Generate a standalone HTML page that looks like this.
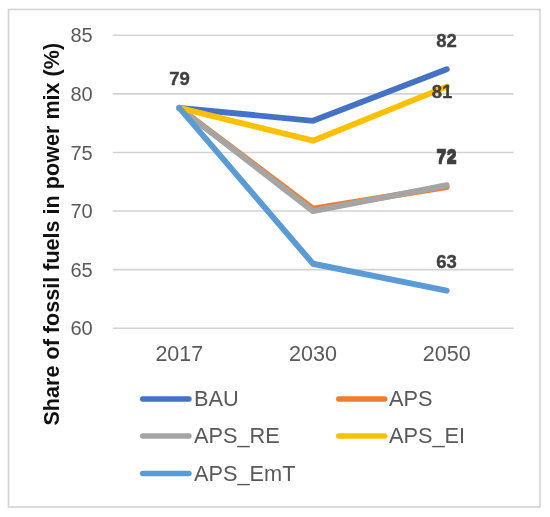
<!DOCTYPE html>
<html><head><meta charset="utf-8"><style>
html,body{margin:0;padding:0;background:#fff;}
body{width:550px;height:517px;overflow:hidden;}
svg{display:block;will-change:transform;font-family:"Liberation Sans",sans-serif;}
.ax{font-size:20px;fill:#595959;}
.xl{font-size:21.5px;fill:#595959;}
.dl{font-size:18.5px;font-weight:bold;fill:#404040;stroke:#404040;stroke-width:0.35px;}
.tt{font-size:21.6px;font-weight:bold;fill:#111;}
.lg{font-size:21.75px;fill:#595959;}
</style></head><body>
<svg width="550" height="517" viewBox="0 0 550 517">
<rect x="8.5" y="9.5" width="531.5" height="497.5" fill="#fff" stroke="#d3d3d3" stroke-width="1.6"/>
<line x1="112.8" y1="35.30" x2="513.5" y2="35.30" stroke="#d3d3d3" stroke-width="1.6"/>
<text x="92.7" y="42.40" text-anchor="end" class="ax">85</text>
<line x1="112.8" y1="93.88" x2="513.5" y2="93.88" stroke="#d3d3d3" stroke-width="1.6"/>
<text x="92.7" y="100.98" text-anchor="end" class="ax">80</text>
<line x1="112.8" y1="152.46" x2="513.5" y2="152.46" stroke="#d3d3d3" stroke-width="1.6"/>
<text x="92.7" y="159.56" text-anchor="end" class="ax">75</text>
<line x1="112.8" y1="211.04" x2="513.5" y2="211.04" stroke="#d3d3d3" stroke-width="1.6"/>
<text x="92.7" y="218.14" text-anchor="end" class="ax">70</text>
<line x1="112.8" y1="269.62" x2="513.5" y2="269.62" stroke="#d3d3d3" stroke-width="1.6"/>
<text x="92.7" y="276.72" text-anchor="end" class="ax">65</text>
<line x1="112.8" y1="328.20" x2="513.5" y2="328.20" stroke="#d3d3d3" stroke-width="1.6"/>
<text x="92.7" y="335.30" text-anchor="end" class="ax">60</text>
<text x="179.30" y="361" text-anchor="middle" class="xl">2017</text>
<text x="313.00" y="361" text-anchor="middle" class="xl">2030</text>
<text x="446.70" y="361" text-anchor="middle" class="xl">2050</text>
<polyline points="179.30,107.94 313.00,120.83 446.70,69.28" fill="none" stroke="#4472C4" stroke-width="5.9" stroke-linecap="round" stroke-linejoin="round"/>
<polyline points="179.30,107.94 313.00,208.70 446.70,187.02" fill="none" stroke="#ED7D31" stroke-width="5.9" stroke-linecap="round" stroke-linejoin="round"/>
<polyline points="179.30,107.94 313.00,211.04 446.70,185.26" fill="none" stroke="#A5A5A5" stroke-width="5.9" stroke-linecap="round" stroke-linejoin="round"/>
<polyline points="179.30,107.94 313.00,140.74 446.70,86.62" fill="none" stroke="#FFC000" stroke-width="5.9" stroke-linecap="round" stroke-linejoin="round"/>
<polyline points="179.30,107.94 313.00,263.76 446.70,290.71" fill="none" stroke="#5B9BD5" stroke-width="5.9" stroke-linecap="round" stroke-linejoin="round"/>
<text x="179.5" y="84.8" text-anchor="middle" class="dl">79</text>
<text x="446.5" y="47" text-anchor="middle" class="dl">82</text>
<text x="442" y="97.6" text-anchor="middle" class="dl">81</text>
<text x="446.6" y="162.4" text-anchor="middle" class="dl">72</text>
<text x="446.6" y="163.9" text-anchor="middle" class="dl">72</text>
<text x="446.5" y="267.6" text-anchor="middle" class="dl">63</text>
<text transform="translate(59.0,234.2) rotate(-90)" text-anchor="middle" class="tt">Share of fossil fuels in power mix (%)</text>
<line x1="142.7" y1="399" x2="188.9" y2="399" stroke="#4472C4" stroke-width="5.5" stroke-linecap="round"/>
<text x="194" y="406.2" class="lg">BAU</text>
<line x1="338.8" y1="399" x2="384.7" y2="399" stroke="#ED7D31" stroke-width="5.5" stroke-linecap="round"/>
<text x="389" y="406.2" class="lg">APS</text>
<line x1="142.7" y1="436" x2="188.9" y2="436" stroke="#A5A5A5" stroke-width="5.5" stroke-linecap="round"/>
<text x="194" y="443.2" class="lg">APS_RE</text>
<line x1="338.8" y1="436" x2="384.7" y2="436" stroke="#FFC000" stroke-width="5.5" stroke-linecap="round"/>
<text x="389" y="443.2" class="lg">APS_EI</text>
<line x1="142.7" y1="473.5" x2="188.9" y2="473.5" stroke="#5B9BD5" stroke-width="5.5" stroke-linecap="round"/>
<text x="194" y="480.7" class="lg">APS_EmT</text>
</svg>
</body></html>
